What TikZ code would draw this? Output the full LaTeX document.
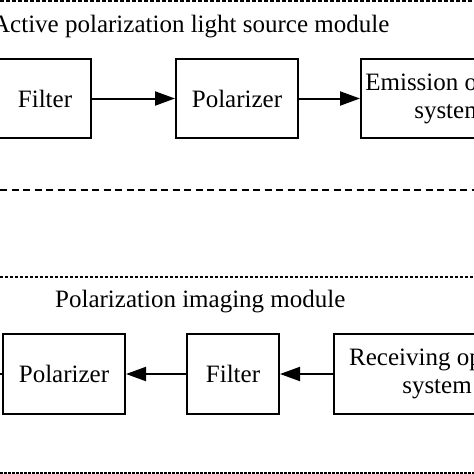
\documentclass[tikz,border=0pt]{standalone}
\usepackage{fontspec}
\setmainfont{Liberation Serif}
\usetikzlibrary{arrows.meta}
\begin{document}
\begin{tikzpicture}[x=1pt,y=-1pt,
  blk/.style={draw,line width=2pt,inner sep=0pt,align=center,font=\fontsize{25}{28}\selectfont},
  conn/.style={line width=2pt,-{Triangle[length=20pt,width=14pt]}},
  lbl/.style={inner sep=0pt,font=\fontsize{25}{28}\selectfont},
  sep/.style={line width=2pt}]
\useasboundingbox (0,0) rectangle (474,474);
\clip (0,0) rectangle (474,474);
% separators
\draw[sep,dash pattern=on 4pt off 2pt] (0,1) -- (474,1);
\draw[sep,dash pattern=on 7pt off 4.5pt] (0,190) -- (474,190);
\draw[sep,dash pattern=on 3pt off 2pt] (0,277) -- (474,277);
\draw[sep,dash pattern=on 2.5pt off 1.5pt] (0,473) -- (474,473);
% titles
\node[lbl,anchor=base west] (t1) at (-8,32) {Active polarization light source module};
\node[lbl,anchor=base west] (t2) at (55,307) {Polarization imaging module};
% top row
\node[blk,minimum width=92pt,minimum height=79pt] (f1) at (45,98.5) {Filter};
\node[blk,minimum width=122pt,minimum height=79pt] (p1) at (237,98.5) {Polarizer};
\node[blk,minimum width=176pt,minimum height=79pt] (e1) at (449,98.5) {Emission optical\\system};
\draw[conn] (f1) -- (p1);
\draw[conn] (p1) -- (e1);
% bottom row
\node[blk,minimum width=122pt,minimum height=80pt] (p2) at (64,374) {Polarizer};
\node[blk,minimum width=92pt,minimum height=80pt] (f2) at (233,374) {Filter};
\node[blk,minimum width=206pt,minimum height=80pt] (r2) at (437,374) {Receiving optical\\system};
\coordinate (out) at (-20,374);
\draw[conn] (r2) -- (f2);
\draw[conn] (f2) -- (p2);
\draw[line width=2pt] (p2) -- (out);
\end{tikzpicture}
\end{document}
